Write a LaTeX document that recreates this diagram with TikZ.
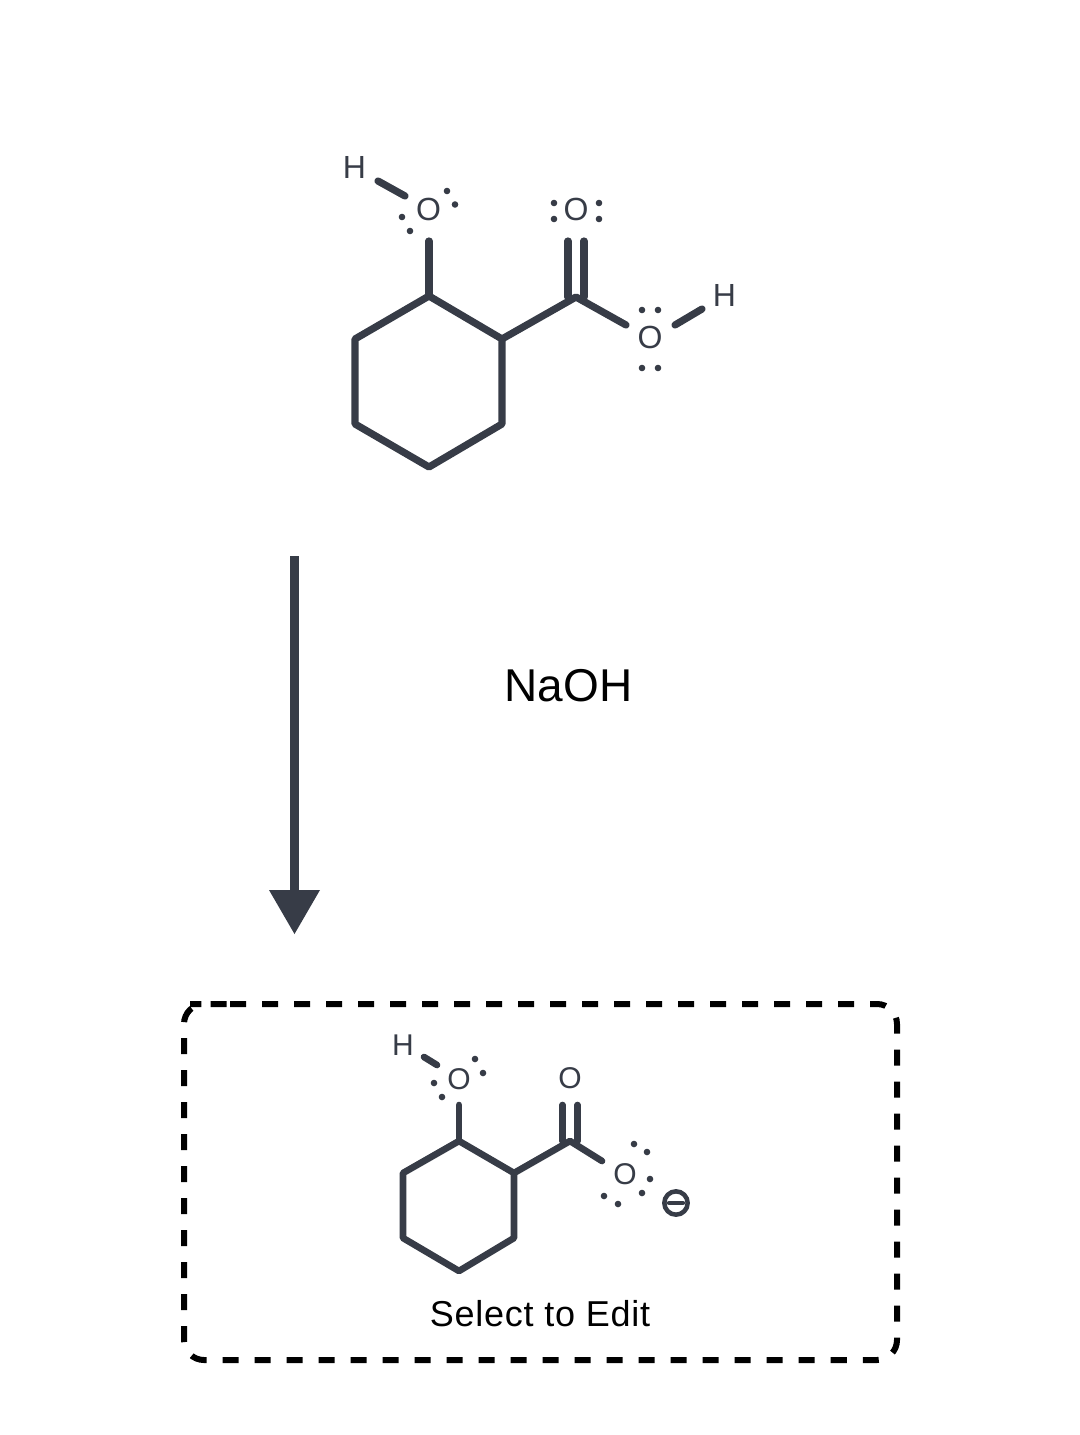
\documentclass[tikz,border=0pt]{standalone}
\usepackage{fontspec}
\setmainfont{Liberation Sans}
\definecolor{ink}{HTML}{373C47}
\tikzset{
  bond/.style={draw=ink,line width=5.4pt,line cap=round,line join=round},
  sbond/.style={draw=ink,line width=5pt,line cap=round,line join=round},
  atomA/.style={text=ink,font=\fontsize{24}{24}\selectfont,inner sep=0pt},
  atomB/.style={text=ink,font=\fontsize{22.5}{22.5}\selectfont,inner sep=0pt},
  lpair/.style={fill=ink},
  editbox/.style={draw=black,line width=4.5pt,dash pattern=on 12pt off 12pt,rounded corners=15pt},
  label/.style={text=black,inner sep=0pt}
}
\newcommand{\lp}[2]{\fill[lpair] (#1,#2) circle (3.3);}
\begin{document}
\begin{tikzpicture}[x=0.75pt,y=-0.75pt]
\useasboundingbox (0,0) rectangle (1080,1435);
% top molecule
\coordinate (a1) at (429,296);\coordinate (a2) at (502,339);\coordinate (a3) at (502,424);
\coordinate (a4) at (429,467);\coordinate (a5) at (355,424);\coordinate (a6) at (355,339);
\coordinate (ac) at (576,297);
\coordinate (ao1) at (429,241);\coordinate (ah1a) at (378,181);\coordinate (ah1b) at (405,196);
\coordinate (ad1a) at (568,241);\coordinate (ad1b) at (568,297);\coordinate (ad2a) at (584,241);\coordinate (ad2b) at (584,297);
\coordinate (ao3) at (626,325);\coordinate (ah3a) at (675,325);\coordinate (ah3b) at (702,309);
\draw[bond] (a1)--(a2)--(a3)--(a4)--(a5)--(a6)--cycle;
\draw[bond] (a2)--(ac)--(ao3);
\draw[bond] (a1)--(ao1);
\draw[bond] (ah1a)--(ah1b);
\draw[bond] (ah3a)--(ah3b);
\draw[bond] (ad1a)--(ad1b);
\draw[bond] (ad2a)--(ad2b);
\node[atomA] (tH1) at (354.5,167) {H};
\node[atomA] (tO1) at (428.5,209.5) {O};
\node[atomA] (tO2) at (576,209.5) {O};
\node[atomA] (tO3) at (650,337.5) {O};
\node[atomA] (tH2) at (724.5,295) {H};
\lp{447}{191}\lp{455}{204.5}\lp{402}{217}\lp{410}{231}
\lp{554}{203}\lp{554}{219}\lp{599}{203}\lp{599}{219}
\lp{642}{310}\lp{658}{310}\lp{642}{368}\lp{658}{368}
% reaction arrow
\coordinate (arrS) at (294.5,556);\coordinate (arrE) at (294.5,892);
\draw[draw=ink,line width=6.75pt] (arrS)--(arrE);
\fill[ink] (269,890)--(320,890)--(294.5,934)--cycle;
\node[label,font=\fontsize{34.5}{34.5}\selectfont] (reagent) at (568.5,686) {NaOH};
% edit box
\draw[editbox] (210,1004)--(897,1004)--(897,1360)--(184,1360)--(184,1004)--cycle;
% bottom molecule
\coordinate (b1) at (459,1141);\coordinate (b2) at (514,1173);\coordinate (b3) at (514,1238);
\coordinate (b4) at (459,1271);\coordinate (b5) at (403,1238);\coordinate (b6) at (403,1173);
\coordinate (bc) at (570,1141);
\coordinate (bo1) at (459,1105);\coordinate (bh1a) at (424,1057);\coordinate (bh1b) at (437,1065);
\coordinate (bd1a) at (562.5,1105);\coordinate (bd1b) at (562.5,1141);\coordinate (bd2a) at (577.5,1105);\coordinate (bd2b) at (577.5,1141);
\coordinate (bo3) at (602,1161);
\draw[sbond] (b1)--(b2)--(b3)--(b4)--(b5)--(b6)--cycle;
\draw[sbond] (b2)--(bc)--(bo3);
\draw[sbond] (b1)--(bo1);
\draw[sbond] (bh1a)--(bh1b);
\draw[sbond] (bd1a)--(bd1b);
\draw[sbond] (bd2a)--(bd2b);
\node[atomB] (bH1) at (403,1045) {H};
\node[atomB] (bO1) at (459,1079) {O};
\node[atomB] (bO2) at (570,1078) {O};
\node[atomB] (bO3) at (625,1174.5) {O};
\lp{475}{1059}\lp{483}{1073}\lp{434}{1083}\lp{442}{1097}
\lp{634}{1144}\lp{647}{1152}\lp{650}{1179}\lp{642}{1193}\lp{604}{1196}\lp{618}{1204}
\node[draw=ink,line width=3.4pt,circle,minimum size=17.5pt,inner sep=0pt] (charge) at (676,1203) {};
\draw[draw=ink,line width=3.2pt,line cap=round] (669,1203)--(683,1203);
\node[label,font=\fontsize{27}{27}\selectfont\addfontfeature{LetterSpace=2.1}] (cap) at (540,1314) {Select to Edit};
\end{tikzpicture}
\end{document}
